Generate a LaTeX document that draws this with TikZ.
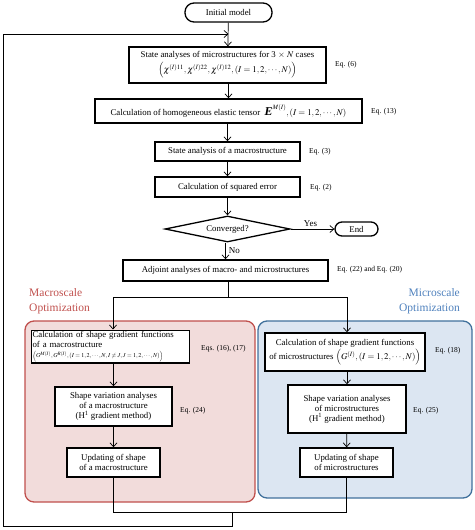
\documentclass[tikz,border=0pt]{standalone}
\usepackage{mathptmx}
\usepackage{fontspec}
\setmainfont{Liberation Serif}
\usetikzlibrary{arrows.meta,shapes.geometric}
\definecolor{redline}{HTML}{C0504D}
\definecolor{redfill}{HTML}{F2DCDB}
\definecolor{blueline}{HTML}{41719C}
\definecolor{bluefill}{HTML}{DCE6F2}
\definecolor{bluetext}{HTML}{4F81BD}
\begin{document}
\begin{tikzpicture}[x=1pt,y=-1pt,
  box/.style={draw, line width=1.4pt, fill=white, inner sep=1pt, align=center, font=\fontsize{8.8}{10}\selectfont},
  term/.style={draw, line width=1.3pt, fill=white, align=center, inner sep=1pt, font=\fontsize{8.8}{10}\selectfont},
  eq/.style={anchor=west, inner sep=0pt, font=\fontsize{7.5}{8.5}\selectfont},
  conn/.style={line width=0.7pt},
  arr/.style={line width=0.7pt, -{Straight Barb[length=4pt,width=7pt]}},
  region/.style={line width=1.3pt, rounded corners=9pt},
  reglabel/.style={font=\fontsize{11.5}{15}\selectfont, inner sep=0pt},
]
\useasboundingbox (0,0) rectangle (474,530);

% regions
\node[region, draw=redline, fill=redfill, minimum width=230pt, minimum height=181pt] (redreg) at (140,411.5) {};
\node[region, draw=blueline, fill=bluefill, minimum width=214pt, minimum height=177pt] (bluereg) at (365,409.5) {};
\node[reglabel, text=redline, align=left, anchor=west] (maclab) at (29,301) {Macroscale\\Optimization};
\node[reglabel, text=bluetext, align=right, anchor=east] (miclab) at (460,301) {Microscale\\Optimization};

% main column
\node[term, rounded corners=9pt, minimum width=87pt, minimum height=19pt] (init) at (228.5,12.5) {Initial model};
\node[box, minimum width=197pt, minimum height=36pt] (sa) at (227.5,65)
  {State analyses of microstructures for 3 $\times$ $N$ cases\\[2pt]
   $\left(\chi^{(I)11},\chi^{(I)22},\chi^{(I)12},(I=1,2,\cdots,N)\right)$};
\node[box, minimum width=267pt, minimum height=24pt] (het) at (228.5,111)
  {Calculation of homogeneous elastic tensor \ $\textbf{\textit{\large E}}^{M(I)},(I=1,2,\cdots,N)$};
\node[box, minimum width=145pt, minimum height=19pt] (sam) at (227.5,151.5) {State analysis of a macrostructure};
\node[box, minimum width=145pt, minimum height=20pt] (sqe) at (227.5,187) {Calculation of squared error};
\node[draw, diamond, aspect=5, line width=1.3pt, fill=white, inner sep=0pt, minimum width=125pt, minimum height=26pt, font=\fontsize{8.8}{10}\selectfont] (conv) at (227.5,229) {Converged?};
\node[term, rounded corners=7pt, minimum width=43pt, minimum height=14pt] (end) at (356.5,229) {End};
\node[box, minimum width=205pt, minimum height=21pt] (adj) at (225.5,270.5) {Adjoint analyses of macro- and microstructures};

% macro column
\node[box, align=left, text width=156pt, minimum height=31pt] (mc) at (110.5,346.5)
  {Calculation of shape gradient functions\\ of a macrostructure\\[0.5pt]
   {\fontsize{6}{6.5}\selectfont $\left(G^{M(I)},G^{R(I)},(I=1,2,\cdots,N,I\neq J,J=1,2,\cdots,N)\right)$}};
\node[box, minimum width=117pt, minimum height=39pt] (msv) at (113.5,406.5)
  {Shape variation analyses\\ of a macrostructure\\ (H\textsuperscript{1} gradient method)};
\node[box, minimum width=93pt, minimum height=29pt] (mu) at (113.5,462.5)
  {Updating of shape\\ of a macrostructure};

% micro column
\node[box, minimum width=160pt, minimum height=38pt] (uc) at (345,352)
  {Calculation of shape gradient functions\\[1pt] of microstructures $\left(G^{(I)},(I=1,2,\cdots,N)\right)$};
\node[box, minimum width=118pt, minimum height=48pt] (usv) at (347,409)
  {Shape variation analyses\\ of microstructures\\ (H\textsuperscript{1} gradient method)};
\node[box, minimum width=93pt, minimum height=29pt] (uu) at (346.5,462.5)
  {Updating of shape\\ of microstructures};

% equation labels
\node[eq] (e6) at (335,65) {Eq. (6)};
\node[eq] (e13) at (371,112) {Eq. (13)};
\node[eq] (e3) at (309,152) {Eq. (3)};
\node[eq] (e2) at (310,188) {Eq. (2)};
\node[eq] (e22) at (337,270) {Eq. (22) and Eq. (20)};
\node[eq] (e16) at (201,349) {Eqs. (16), (17)};
\node[eq] (e24) at (180,411) {Eq. (24)};
\node[eq] (e18) at (435,351) {Eq. (18)};
\node[eq] (e25) at (413,411) {Eq. (25)};

% connectors
\coordinate (loopin) at (228.5,34);
\draw[arr] (init) -- (sa);
\draw[arr] (sa.south -| het.north) -- (het.north);
\draw[arr] (het.south -| sam.north) -- (sam.north);
\draw[arr] (sam) -- (sqe);
\draw[arr] (sqe) -- (conv);
\draw[arr] (conv) -- node[above, font=\fontsize{9}{10}\selectfont, inner sep=2pt, xshift=-2pt] {Yes} (end);
\draw[arr] (conv.south -| adj.north) -- node[right, font=\fontsize{9}{10}\selectfont, inner sep=3pt] {No} (adj.north);

\coordinate (br) at (228.5,297);
\coordinate (brl) at (113,297);
\coordinate (brr) at (347,297);
\draw[conn] (adj.south -| br) -- (br);
\draw[conn] (brl) -- (brr);
\draw[arr] (brl) -- (brl |- mc.north);
\draw[arr] (brr) -- (brr |- uc.north);

\draw[arr] (mc.south -| msv.north) -- (msv.north);
\draw[arr] (msv) -- (mu);
\draw[arr] (uc.south -| usv.north) -- (usv.north);
\draw[arr] (usv) -- (uu);

\coordinate (jb) at (232,512);
\coordinate (c1) at (232,526);
\coordinate (c2) at (3,526);
\coordinate (c3) at (3,34);
\draw[conn] (mu.south) -- (mu.south |- jb) -- (uu.south |- jb) -- (uu.south);
\draw[arr] (jb) -- (c1) -- (c2) -- (c3) -- (loopin);
\end{tikzpicture}
\end{document}
